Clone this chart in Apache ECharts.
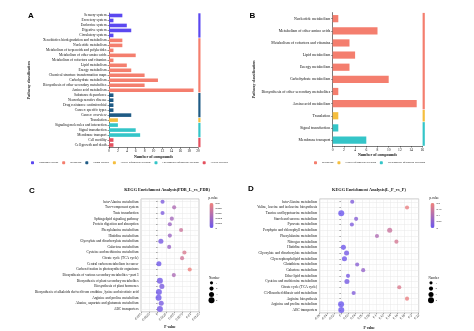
<!DOCTYPE html>
<html><head><meta charset="utf-8">
<script src="https://cdn.jsdelivr.net/npm/echarts@6/dist/echarts.min.js"></script>
<style>html,body{margin:0;padding:0;background:#fff}#c{width:474px;height:331px}</style>
</head><body><div id="c"></div>
<script>
// ---------- DATA ----------
const groupNames = ['Organismal Systems','Metabolism','Human Diseases','Genetic Information Processing','Environmental Information Processing','Cellular Processes'];

const aCategories = ['Sensory system','Excretory system','Endocrine system','Digestive system','Circulatory system',
 'Xenobiotics biodegradation and metabolism','Nucleotide metabolism','Metabolism of terpenoids and polyketides','Metabolism of other amino acids','Metabolism of cofactors and vitamins','Lipid metabolism','Energy metabolism','Chemical structure transformation maps','Carbohydrate metabolism','Biosynthesis of other secondary metabolites','Amino acid metabolism',
 'Substance dependence','Neurodegenerative disease','Drug resistance: antimicrobial','Cancer: specific types','Cancer: overview',
 'Translation','Signaling molecules and interaction','Signal transduction','Membrane transport','Cell motility','Cell growth and death'];
const aValues = [3,1,4,5,1, 3,3,1,6,1,4,5,8,11,8,19, 1,1,1,1,5, 2,2,6,7,1,1];
const aGroupOf = [0,0,0,0,0, 1,1,1,1,1,1,1,1,1,1,1, 2,2,2,2,2, 3,4,4,4,5,5];

const bCategories = ['Nucleotide metabolism','Metabolism of other amino acids','Metabolism of cofactors and vitamins','Lipid metabolism','Energy metabolism','Carbohydrate metabolism','Biosynthesis of other secondary metabolites','Amino acid metabolism','Translation','Signal transduction','Membrane transport'];
const bValues = [1,8,3,4,3,10,1,15,1,1,6];
const bGroupOf = [1,1,1,1,1,1,1,1,3,4,4];

const cPathways = ['beta-Alanine metabolism','Two-component system','Taste transduction','Sphingolipid signaling pathway','Protein digestion and absorption','Phenylalanine metabolism','Histidine metabolism','Glyoxylate and dicarboxylate metabolism','Galactose metabolism','Cysteine and methionine metabolism','Citrate cycle (TCA cycle)','Central carbon metabolism in cancer','Carbon fixation in photosynthetic organisms','Biosynthesis of various secondary metabolites - part 3','Biosynthesis of plant secondary metabolites','Biosynthesis of plant hormones','Biosynthesis of alkaloids derived from ornithine, lysine and nicotinic acid','Arginine and proline metabolism','Alanine, aspartate and glutamate metabolism','ABC transporters'];
const cPValues = [0.0015,0.0050,0.0015,0.0043,0.0037,0.0071,0.0037,0.0010,0.0035,0.0081,0.0074,0.0004,0.0097,0.0049,0.0007,0.0013,0.0004,0.0003,0.0011,0.0007];
const cCounts = [2,2,2,2,2,2,2,3,2,2,2,3,2,2,4,3,4,4,3,4];

const dPathways = ['beta-Alanine metabolism','Valine, leucine and isoleucine biosynthesis','Taurine and hypotaurine metabolism','Starch and sucrose metabolism','Pyruvate metabolism','Porphyrin and chlorophyll metabolism','Phenylalanine metabolism','Nitrogen metabolism','Histidine metabolism','Glyoxylate and dicarboxylate metabolism','Glycerophospholipid metabolism','Glutathione metabolism','Galactose metabolism','Ether lipid metabolism','Cysteine and methionine metabolism','Citrate cycle (TCA cycle)','C5-Branched dibasic acid metabolism','Arginine biosynthesis','Arginine and proline metabolism','ABC transporters'];
const dPValues = [0.032,0.187,0.001,0.043,0.031,0.138,0.102,0.157,0.007,0.016,0.010,0.046,0.063,0.020,0.017,0.165,0.036,0.187,0.0005,0.001];
const dCounts = [2,2,4,2,2,3,2,2,3,3,3,2,2,2,3,2,2,2,4,4];

const numberLegend = [1,2,3,4];
const cColorTicks = [0.01,0.008,0.006,0.004,0.002,0];
const dColorTicks = [0.2,0.15,0.1,0.05,0];

// ---------- STYLE ----------
const groupColors = ['#5B48F0','#F47E6E','#1F5B85','#F5BE3E','#34C5C8','#E4505E'];
const serif = 'Liberation Serif';
const gradient = ['#6A56EE','#F2827A'];
const sizeFn = n => 2.2 + n * 0.95;

const chart = echarts.init(document.getElementById('c'), null, {renderer:'canvas'});

function stripeRender(params, api){
  const p1 = api.coord([api.value(2), api.value(0)]);
  const p2 = api.coord([api.value(2), api.value(1)]);
  const band = api.size([0,1])[1];
  return {type:'rect', shape:{x:p1[0]+0.3, y:Math.min(p1[1],p2[1]) - band/2 + 0.3, width:2.2, height:Math.abs(p2[1]-p1[1]) + band - 0.6},
    style:{fill: api.visual('color')}};
}
function stripeData(groupOf, xMax){
  const out = [];
  groupNames.forEach((g, gi) => {
    const idx = groupOf.map((v,i)=> v===gi ? i : -1).filter(i=>i>=0);
    if (idx.length) out.push({value:[Math.min(...idx), Math.max(...idx), xMax], itemStyle:{color:groupColors[gi]}});
  });
  return out;
}

const series = [];
groupNames.forEach((g, gi) => {
  if (aGroupOf.includes(gi)) series.push({type:'bar', name:g, xAxisIndex:0, yAxisIndex:0, stack:'a', barWidth:3.6,
    itemStyle:{color:groupColors[gi]}, data:aValues.map((v,i)=> aGroupOf[i]===gi ? v : '-')});
});
series.push({type:'custom', xAxisIndex:0, yAxisIndex:0, renderItem:stripeRender, clip:false, encode:{x:2, y:0}, data:stripeData(aGroupOf, 20), silent:true});
groupNames.forEach((g, gi) => {
  if (bGroupOf.includes(gi)) series.push({type:'bar', name:g, xAxisIndex:1, yAxisIndex:1, stack:'b', barWidth:7.2,
    itemStyle:{color:groupColors[gi]}, data:bValues.map((v,i)=> bGroupOf[i]===gi ? v : '-')});
});
series.push({type:'custom', xAxisIndex:1, yAxisIndex:1, renderItem:stripeRender, clip:false, encode:{x:2, y:0}, data:stripeData(bGroupOf, 16), silent:true});
const cIndex = series.length;
series.push({type:'scatter', xAxisIndex:2, yAxisIndex:2, data:cPValues.map((p,i)=>[p,i,cCounts[i]]), symbolSize:v=>sizeFn(v[2])});
const dIndex = series.length;
series.push({type:'scatter', xAxisIndex:3, yAxisIndex:3, data:dPValues.map((p,i)=>[p,i,dCounts[i]]), symbolSize:v=>sizeFn(v[2])});

const blackLine = {show:true, lineStyle:{color:'#222', width:0.6}};
const barX = (gi, max) => ({gridIndex:gi, type:'value', min:0, max:max, interval:2, axisLine:blackLine, axisTick:{show:true, length:1.5, lineStyle:{color:'#222', width:0.5}},
  axisLabel:{fontSize:3.6, fontFamily:serif, color:'#111', margin:2}, splitLine:{show:false},
  name:'Number of compounds', nameLocation:'middle', nameGap:7, nameTextStyle:{fontSize:4, fontFamily:serif, fontWeight:'bold', color:'#111'}});
const barY = (gi, cats, gap, fs) => ({gridIndex:gi, type:'category', inverse:true, data:cats, axisLine:blackLine, axisTick:{show:true, length:1.5, alignWithLabel:true, lineStyle:{color:'#222', width:0.5}},
  axisLabel:{fontSize:fs, fontFamily:serif, color:'#111', margin:2.5, interval:0},
  name:'Pathway classification', nameLocation:'middle', nameRotate:90, nameGap:gap, nameTextStyle:{fontSize:4, fontFamily:serif, fontWeight:'bold', color:'#111'}});
const dotX = (gi, min,max,iv) => ({gridIndex:gi, type:'value', min:min, max:max, interval:iv, axisLine:{show:false},
  axisTick:{show:true, length:1.5, lineStyle:{color:'#555', width:0.5}},
  axisLabel:{fontSize:3.3, fontFamily:serif, color:'#222', rotate:45, margin:2},
  splitLine:{show:true, lineStyle:{color:'#e6e6e6', width:0.5}},
  minorTick:{show:false, splitNumber:2}, minorSplitLine:{show:true, lineStyle:{color:'#f2f2f2', width:0.4}},
  name:'P value', nameLocation:'middle', nameGap:13, nameTextStyle:{fontSize:3.6, fontFamily:serif, fontWeight:'bold', color:'#111'}});
const dotY = (gi, cats) => ({gridIndex:gi, type:'category', inverse:true, data:cats, axisLine:{show:false},
  axisTick:{show:true, length:1.5, alignWithLabel:true, lineStyle:{color:'#555', width:0.5}},
  axisLabel:{fontSize:3.5, fontFamily:serif, color:'#111', margin:2.5, interval:0},
  splitLine:{show:true, alignWithLabel:true, lineStyle:{color:'#e6e6e6', width:0.5}}});

const graphic = [];
[['A',31,16],['B',252.5,16],['C',32,191],['D',251,189]].forEach(([t,x,y]) =>
  graphic.push({type:'text', x:x, y:y, style:{text:t, font:'bold 8px "Liberation Sans"', fill:'#000', textAlign:'center', textVerticalAlign:'middle'}}));
graphic.push({type:'text', x:167, y:190, style:{text:'KEGG Enrichment Analysis(PDB_L_vs_PDB)', font:'bold 4.3px "Liberation Serif"', fill:'#111', textAlign:'center', textVerticalAlign:'middle'}});
graphic.push({type:'text', x:369, y:190, style:{text:'KEGG Enrichment Analysis(L_P_vs_P)', font:'bold 4.3px "Liberation Serif"', fill:'#111', textAlign:'center', textVerticalAlign:'middle'}});
function addColorLegend(x, top, h, ticks, maxV, fmt){
  graphic.push({type:'text', x:x-1, y:top-5, style:{text:'p.value', font:'3.2px "Liberation Serif"', fill:'#111', textVerticalAlign:'middle'}});
  ticks.forEach(t => graphic.push({type:'text', x:x+6, y: top + h*(1 - t/maxV), style:{text:fmt(t), font:'2.8px "Liberation Serif"', fill:'#111', textVerticalAlign:'middle'}}));
}
addColorLegend(209.5, 203, 25, cColorTicks, 0.01, t=>String(t));
addColorLegend(430.5, 203, 25, dColorTicks, 0.2, t=>String(t));
function addSizeLegend(x, y){
  graphic.push({type:'text', x:x-1, y:y, style:{text:'Number', font:'3.2px "Liberation Serif"', fill:'#111', textVerticalAlign:'middle'}});
  numberLegend.forEach((n,i) => {
    const cy = y + 4.8 + i*5.8;
    graphic.push({type:'circle', shape:{cx:x+1.5, cy:cy, r:sizeFn(n)/2}, style:{fill:'#000'}});
    graphic.push({type:'text', x:x+6, y:cy, style:{text:String(n), font:'2.8px "Liberation Serif"', fill:'#111', textVerticalAlign:'middle'}});
  });
}
addSizeLegend(210, 278);
addSizeLegend(429.5, 278);

const option = {
  animation:false,
  backgroundColor:'#fff',
  textStyle:{fontFamily:serif},
  grid:[
    {left:109, top:13, width:89, height:134.5},
    {left:332.7, top:12.6, width:89.6, height:133.5},
    {left:141, top:198.9, width:58, height:112.9, show:true, borderColor:'#999', borderWidth:0.5, backgroundColor:'#fff'},
    {left:319.7, top:198.9, width:99, height:114, show:true, borderColor:'#999', borderWidth:0.5, backgroundColor:'#fff'}
  ],
  xAxis:[barX(0,20), barX(1,16), dotX(2,-0.005, 0.0125, 0.0025), dotX(3,-0.06, 0.22, 0.02)],
  yAxis:[barY(0,aCategories, 78, 3.6), barY(1,bCategories, 77, 3.9), dotY(2,cPathways), dotY(3,dPathways)],
  legend:[
    {data:groupNames, left:31, top:161.3, itemWidth:3, itemHeight:3, itemGap:4, icon:'roundRect', textStyle:{fontSize:2.35, fontFamily:serif, color:'#111'}, padding:0, selectedMode:false},
    {data:[groupNames[1],groupNames[3],groupNames[4]], left:314, top:161.3, itemWidth:3, itemHeight:3, itemGap:4, icon:'roundRect', textStyle:{fontSize:2.4, fontFamily:serif, color:'#111'}, padding:0, selectedMode:false}
  ],
  visualMap:[
    {type:'continuous', seriesIndex:cIndex, dimension:0, min:0, max:0.01, inRange:{color:gradient}, left:209.5, top:203, itemWidth:4, itemHeight:25, calculable:false, text:null, showLabel:false, padding:0},
    {type:'continuous', seriesIndex:dIndex, dimension:0, min:0, max:0.2, inRange:{color:gradient}, left:430.5, top:203, itemWidth:4, itemHeight:25, calculable:false, text:null, showLabel:false, padding:0}
  ],
  graphic:graphic,
  series:series
};
chart.setOption(option);
</script></body></html>
